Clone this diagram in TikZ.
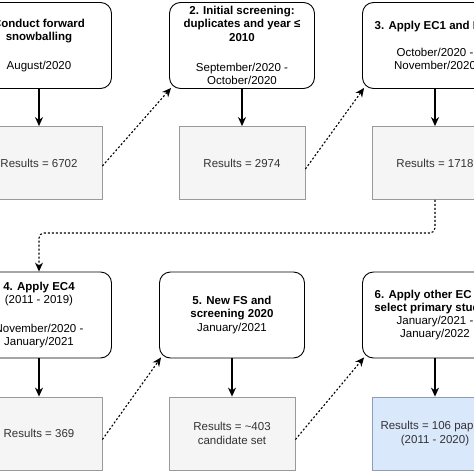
\documentclass[tikz,border=0pt]{standalone}
\usepackage{fontspec}
\setmainfont{Liberation Sans}
\usetikzlibrary{arrows.meta}

\definecolor{resfill}{HTML}{F5F5F5}
\definecolor{resline}{HTML}{9A9A9A}
\definecolor{finalfill}{HTML}{DAE8FC}
\definecolor{finalline}{HTML}{8E9DB3}
\definecolor{restext}{HTML}{333333}

\tikzset{
    stepbox/.style={draw, rounded corners=11pt, line width=0.9pt,
        minimum width=145pt, minimum height=86pt, inner sep=0pt,
        align=center, font=\fontsize{11.5}{13.3}\selectfont},
    resbox/.style={draw=resline, fill=resfill, line width=0.8pt,
        minimum width=126pt, minimum height=73pt, inner sep=0pt,
        align=center, text=restext, font=\fontsize{11.5}{13.3}\selectfont},
    finalbox/.style={resbox, draw=finalline, fill=finalfill},
    down/.style={line width=1.2pt, -{Stealth[length=9pt,width=8pt]}},
    dotlink/.style={line width=1.1pt, dash pattern=on 2pt off 2pt,
        -{Stealth[length=9pt,width=8pt]}},
}

\begin{document}
\begin{tikzpicture}[x=1pt, y=-1pt]
    \useasboundingbox (0,0) rectangle (474,474);
    \clip (0,0) rectangle (474,474);

    \node[stepbox] (s1) at (39,45.5)
        {\bfseries Conduct forward\\\bfseries snowballing\\[15pt]August/2020};
    \node[stepbox] (s2) at (242,45.5)
        {\bfseries 2. Initial screening:\\\bfseries duplicates and year ≤\\\bfseries 2010\\[17pt]September/2020 -\\October/2020};
    \node[stepbox] (s3) at (435,45.5)
        {\bfseries 3. Apply EC1 and EC2\\[14pt]October/2020 -\\November/2020};

    \node[resbox] (r1) at (39,163) {Results = 6702};
    \node[resbox] (r2) at (242,163) {Results = 2974};
    \node[resbox] (r3) at (435,163) {Results = 1718};

    \node[stepbox] (s4) at (39,315)
        {\bfseries 4. Apply EC4\\(2011 - 2019)\\[15pt]November/2020 -\\January/2021};
    \node[stepbox] (s5) at (232,315)
        {\bfseries 5. New FS and\\\bfseries screening 2020\\January/2021};
    \node[stepbox] (s6) at (435,315)
        {\bfseries 6. Apply other EC and\\\bfseries select primary studies\\January/2021 -\\January/2022};

    \node[resbox] (r4) at (39,433.5) {Results = 369};
    \node[resbox] (r5) at (232,433.5) {Results = \textasciitilde403\\candidate set};
    \node[finalbox] (r6) at (435,433.5) {Results = 106 papers\\(2011 - 2020)};

    \draw[down] (s1) -- (r1);
    \draw[down] (s2) -- (r2);
    \draw[down] (s3) -- (r3);
    \draw[down] (s4) -- (r4);
    \draw[down] (s5) -- (r5);
    \draw[down] (s6) -- (r6);

    \draw[dotlink] ([yshift=-3pt]r1.east) -- ([xshift=2pt,yshift=1pt]s2.south west);
    \draw[dotlink] ([yshift=-6pt]r2.east) -- ([xshift=2pt,yshift=1pt]s3.south west);
    \coordinate (turn) at (0,233);
    \draw[dotlink, rounded corners=5pt] (r3.south) -- (r3.south |- turn) -| (s4.north);
    \draw[dotlink] ([yshift=-6pt]r4.east) -- ([xshift=2pt,yshift=1pt]s5.south west);
    \draw[dotlink] ([yshift=-6pt]r5.east) -- ([xshift=2pt,yshift=1pt]s6.south west);
\end{tikzpicture}
\end{document}
